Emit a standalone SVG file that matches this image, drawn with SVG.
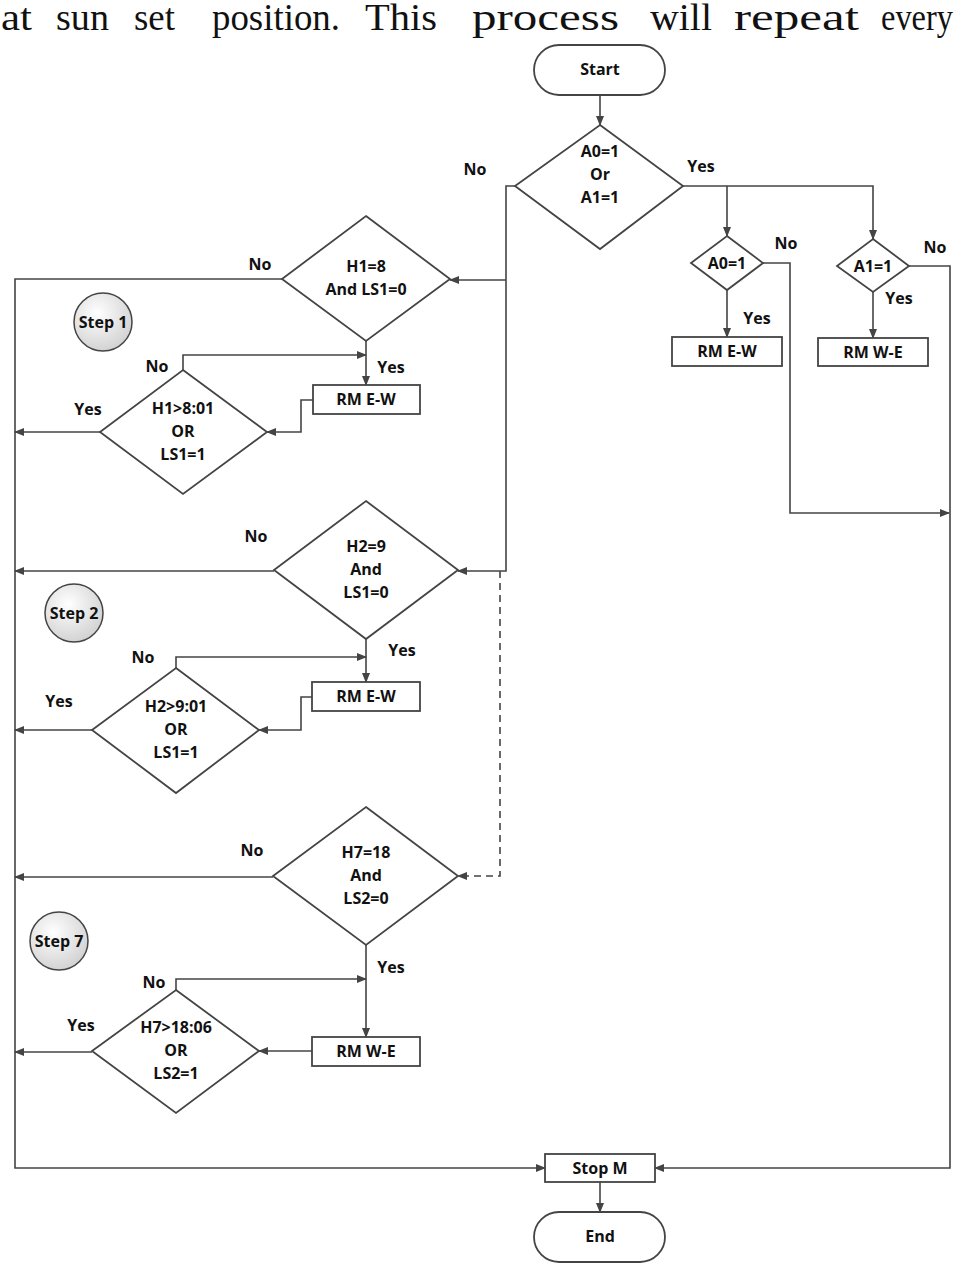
<svg xmlns="http://www.w3.org/2000/svg" width="962" height="1267" viewBox="0 0 962 1267">
<style>
.s{fill:#fff;stroke:#444;stroke-width:1.8}
.c{fill:none;stroke:#444;stroke-width:1.6}
.d{stroke-dasharray:7,5}
text{font-family:"Open Sans","Liberation Sans",sans-serif;font-weight:bold;font-size:16px;fill:#111;text-anchor:middle}
.h{font-family:"Liberation Serif",serif;font-weight:normal;font-size:38px;text-anchor:start}
</style>
<defs>
<marker id="a" markerWidth="10" markerHeight="8" refX="9" refY="4" orient="auto" markerUnits="userSpaceOnUse"><path d="M0,0L10,4L0,8z" fill="#444"/></marker>
<radialGradient id="g" cx="40%" cy="35%" r="70%"><stop offset="0" stop-color="#fff"/><stop offset="1" stop-color="#d0d0d0"/></radialGradient>
</defs>
<g id="header">
<text class="h" x="1" y="30" textLength="31" lengthAdjust="spacingAndGlyphs">at</text>
<text class="h" x="56" y="30" textLength="53" lengthAdjust="spacingAndGlyphs">sun</text>
<text class="h" x="134" y="30" textLength="41" lengthAdjust="spacingAndGlyphs">set</text>
<text class="h" x="212" y="30" textLength="128" lengthAdjust="spacingAndGlyphs">position.</text>
<text class="h" x="365" y="30" textLength="72" lengthAdjust="spacingAndGlyphs">This</text>
<text class="h" x="472" y="30" textLength="147" lengthAdjust="spacingAndGlyphs">process</text>
<text class="h" x="650" y="30" textLength="62" lengthAdjust="spacingAndGlyphs">will</text>
<text class="h" x="734" y="30" textLength="125" lengthAdjust="spacingAndGlyphs">repeat</text>
<text class="h" x="881" y="30" textLength="72" lengthAdjust="spacingAndGlyphs">every</text>
</g>
<g id="connectors" marker-end="url(#a)">
<path class="c" d="M600,95V125"/>
<path class="c" d="M683,186H873V239"/>
<path class="c" d="M727,186V236"/>
<path class="c" d="M727,290V337"/>
<path class="c" d="M873,292V338"/>
<path class="c" d="M763,263H790V513H949"/>
<path class="c" d="M909,266H950V1168H655"/>
<path class="c" d="M515,186H506V571H458"/>
<path class="c" d="M506,280H450"/>
<path class="c d" d="M500,571V876H458"/>
<path class="c" d="M282,279H15V1168H545"/>
<path class="c" d="M366,341V385"/>
<path class="c" d="M313,400H301V432H267"/>
<path class="c" d="M183,370V355H366"/>
<path class="c" d="M100,432H15"/>
<path class="c" d="M274,571H15"/>
<path class="c" d="M366,639V682"/>
<path class="c" d="M312,697H301V730H259"/>
<path class="c" d="M176,668V657H366"/>
<path class="c" d="M92,730H15"/>
<path class="c" d="M273,877H15"/>
<path class="c" d="M366,945V1037"/>
<path class="c" d="M312,1051H259"/>
<path class="c" d="M176,990V979H366"/>
<path class="c" d="M92,1052H15"/>
<path class="c" d="M600,1182V1212"/>
</g>
<g id="labels">
<text x="475" y="175">No</text><text x="701" y="172">Yes</text>
<text x="786" y="249">No</text><text x="935" y="253">No</text>
<text x="757" y="324">Yes</text><text x="899" y="304">Yes</text>
<text x="260" y="270">No</text><text x="391" y="373">Yes</text>
<text x="157" y="372">No</text><text x="88" y="415">Yes</text>
<text x="256" y="542">No</text><text x="402" y="656">Yes</text>
<text x="143" y="663">No</text><text x="59" y="707">Yes</text>
<text x="252" y="856">No</text><text x="391" y="973">Yes</text>
<text x="154" y="988">No</text><text x="81" y="1031">Yes</text>
</g>
<g id="start"><rect class="s" x="534" y="45" width="131" height="50" rx="25"/><text x="600" y="75">Start</text></g>
<g id="d1"><path class="s" d="M600,125L683,186L600,249L515,186z"/><text x="600" y="157">A0=1</text><text x="600" y="180">Or</text><text x="600" y="203">A1=1</text></g>
<g id="a0"><path class="s" d="M727,236L763,263L727,290L691,263z"/><text x="727" y="269">A0=1</text></g>
<g id="a1"><path class="s" d="M873,239L909,266L873,292L837,266z"/><text x="873" y="272">A1=1</text></g>
<g id="rm1"><rect class="s" x="672" y="337" width="110" height="29"/><text x="727" y="357">RM E-W</text></g>
<g id="rm2"><rect class="s" x="818" y="338" width="110" height="28"/><text x="873" y="358">RM W-E</text></g>
<g id="h1"><path class="s" d="M366,216L450,279L366,341L282,279z"/><text x="366" y="272">H1=8</text><text x="366" y="295">And LS1=0</text></g>
<g id="step1"><circle cx="103" cy="322" r="29" fill="url(#g)" stroke="#444" stroke-width="1.5"/><text x="103" y="328">Step 1</text></g>
<g id="rm3"><rect class="s" x="313" y="385" width="107" height="29"/><text x="366" y="405">RM E-W</text></g>
<g id="h1b"><path class="s" d="M183,370L267,432L183,494L100,432z"/><text x="183" y="414">H1&gt;8:01</text><text x="183" y="437">OR</text><text x="183" y="460">LS1=1</text></g>
<g id="h2"><path class="s" d="M366,501L458,570L366,639L274,570z"/><text x="366" y="552">H2=9</text><text x="366" y="575">And</text><text x="366" y="598">LS1=0</text></g>
<g id="step2"><circle cx="74" cy="613" r="29" fill="url(#g)" stroke="#444" stroke-width="1.5"/><text x="74" y="619">Step 2</text></g>
<g id="rm4"><rect class="s" x="312" y="682" width="108" height="29"/><text x="366" y="702">RM E-W</text></g>
<g id="h2b"><path class="s" d="M176,668L259,730L176,793L92,730z"/><text x="176" y="712">H2&gt;9:01</text><text x="176" y="735">OR</text><text x="176" y="758">LS1=1</text></g>
<g id="h7"><path class="s" d="M366,807L458,876L366,945L273,876z"/><text x="366" y="858">H7=18</text><text x="366" y="881">And</text><text x="366" y="904">LS2=0</text></g>
<g id="step7"><circle cx="59" cy="941" r="29" fill="url(#g)" stroke="#444" stroke-width="1.5"/><text x="59" y="947">Step 7</text></g>
<g id="rm5"><rect class="s" x="312" y="1037" width="108" height="29"/><text x="366" y="1057">RM W-E</text></g>
<g id="h7b"><path class="s" d="M176,990L259,1051L176,1113L92,1051z"/><text x="176" y="1033">H7&gt;18:06</text><text x="176" y="1056">OR</text><text x="176" y="1079">LS2=1</text></g>
<g id="stop"><rect class="s" x="545" y="1154" width="110" height="28"/><text x="600" y="1174">Stop M</text></g>
<g id="end"><rect class="s" x="534" y="1212" width="131" height="50" rx="25"/><text x="600" y="1242">End</text></g>
</svg>
